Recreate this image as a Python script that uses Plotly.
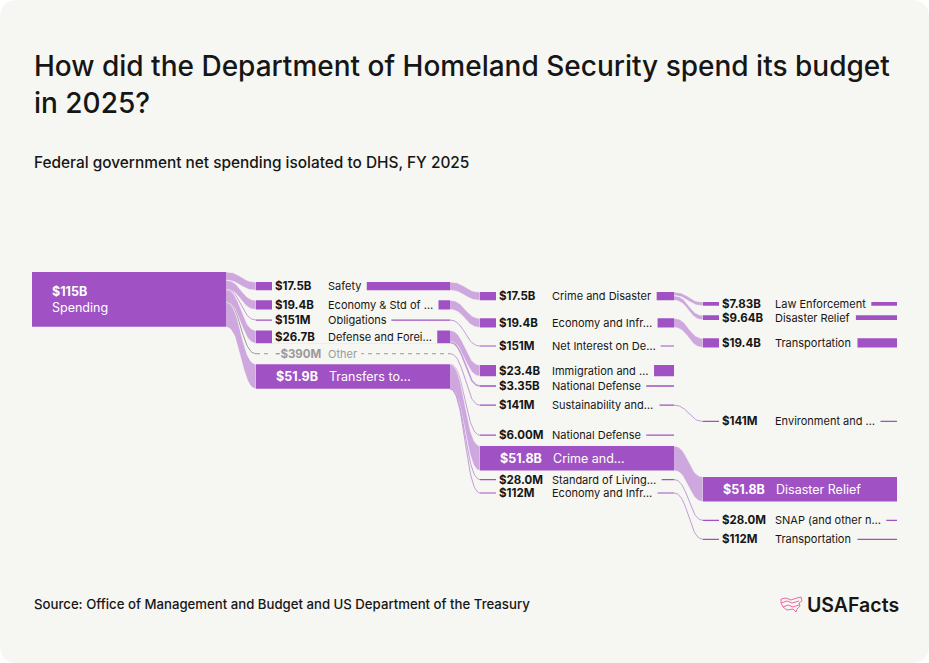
import numpy as np
import plotly.graph_objects as go

# ---- data ($ billions) ----
node_names = [
    "Spending",
    "Safety", "Economy & Std of …", "Obligations", "Defense and Forei…", "Other", "Transfers to…",
    "Crime and Disaster", "Economy and Infr…", "Net Interest on De…", "Immigration and …",
    "National Defense", "Sustainability and…", "National Defense", "Crime and…",
    "Standard of Living…", "Economy and Infr…",
    "Law Enforcement", "Disaster Relief", "Transportation", "Environment and …",
    "Disaster Relief", "SNAP (and other n…", "Transportation",
]
node_values = [
    115.3,
    17.5, 19.4, 0.151, 26.7, -0.390, 51.9,
    17.5, 19.4, 0.151, 23.4, 3.35, 0.141, 0.006, 51.8, 0.028, 0.112,
    7.83, 9.64, 19.4, 0.141, 51.8, 0.028, 0.112,
]
node_columns = [0] + [1] * 6 + [2] * 10 + [3] * 7

link_source = [0, 0, 0, 0, 0, 0, 1, 2, 3, 4, 4, 5, 6, 6, 6, 6, 7, 7, 8, 12, 14, 15, 16]
link_target = [1, 2, 3, 4, 5, 6, 7, 8, 9, 10, 11, 12, 13, 14, 15, 16, 17, 18, 19, 20, 21, 22, 23]
link_values = [17.5, 19.4, 0.151, 26.7, -0.390, 51.9, 17.5, 19.4, 0.151, 23.4, 3.35, 0.141,
               0.006, 51.8, 0.028, 0.112, 7.83, 9.64, 19.4, 0.141, 51.8, 0.028, 0.112]

title_lines = ["How did the Department of Homeland Security spend its budget", "in 2025?"]
subtitle = "Federal government net spending isolated to DHS, FY 2025"
source_note = "Source: Office of Management and Budget and US Department of the Treasury"

# ---- layout / style ----
W, H = 929, 663
BG = "#f6f6f2"
NODE = "#a052c4"
LINK = "#cea7df"
THIN = "#c49bd9"
INK = "#161616"
GREY = "#9b9b9b"
FONT = "Inter, sans-serif"
LABEL_SIZE = 11

SCALE = 0.475          # px per $1B
COL_X = [32, 256, 480, 703]
NODE_W = 194
GAP = 10
SPEND_TOP = 272
COL1_TOP = 282
# vertical slots used by the layout for columns 2 and 3 (row centres)
row_centers = {7: 296.2, 8: 322.9, 9: 346, 10: 370.6, 11: 386, 12: 405.2, 13: 435.2,
               14: 458.3, 15: 479.6, 16: 493.0,
               17: 303.9, 18: 317.6, 19: 342.9, 20: 421.3, 21: 489.3, 22: 520.3, 23: 539.3}

# rough Inter advance widths (em) for sizing the knock-out boxes behind labels
EM = {" ": .26, "a": .56, "b": .60, "c": .55, "d": .60, "e": .57, "f": .35, "g": .60, "h": .58,
      "i": .24, "j": .24, "k": .52, "l": .24, "m": .87, "n": .58, "o": .58, "p": .60, "q": .60,
      "r": .37, "s": .52, "t": .35, "u": .58, "v": .53, "w": .78, "x": .52, "y": .53, "z": .52,
      "&": .66, "(": .33, ")": .33, "…": .78, "I": .27, "L": .52, "E": .58, "F": .56, "T": .62}


def text_w(s, size):
    return sum(EM.get(c, .68) for c in s) * size * 1.04


def fmt(v):
    a = abs(v)
    if a >= 1:
        s, u = format(a, "#.3g").rstrip("."), "B"
    else:
        s, u = format(a * 1000, "#.3g").rstrip("."), "M"
    return ("-" if v < 0 else "") + "$" + s + u


n = len(node_names)
h = [max(v, 0) * SCALE for v in node_values]
dh = [max(x, 1) for x in h]
top = [0.0] * n
y = COL1_TOP
for i in range(n):
    if node_columns[i] == 0:
        top[i] = SPEND_TOP
    elif node_columns[i] == 1:
        top[i] = y
        y += dh[i] + GAP
    else:
        top[i] = row_centers[i] - dh[i] / 2
center = [top[i] + dh[i] / 2 for i in range(n)]

fig = go.Figure()

# ---- links ----
out_off = {i: 0.0 for i in range(n)}
in_off = {i: 0.0 for i in range(n)}
link_order = sorted(range(len(link_values)), key=lambda k: (link_source[k], center[link_target[k]]))
t = np.linspace(0, 1, 40)
ease = 3 * t ** 2 - 2 * t ** 3
for k in link_order:
    s, d, v = link_source[k], link_target[k], link_values[k]
    th = max(v, 0) * SCALE
    x0 = COL_X[node_columns[s]] + NODE_W
    x1 = COL_X[node_columns[d]]
    xm = (x0 + x1) / 2
    bx = (1 - t) ** 3 * x0 + 3 * (1 - t) ** 2 * t * xm + 3 * (1 - t) * t ** 2 * xm + t ** 3 * x1
    sa = top[s] + out_off[s]
    ta = top[d] + in_off[d]
    out_off[s] += th
    in_off[d] += th
    if th < 2:
        ys = center[s] if h[s] < 1 else sa + th / 2
        yt = center[d] if h[d] < 1 else ta + th / 2
        fig.add_trace(go.Scatter(
            x=bx, y=ys + (yt - ys) * ease, mode="lines",
            line=dict(color=GREY if v < 0 else THIN, width=max(th, 1)),
            hoverinfo="skip", showlegend=False))
    else:
        ytop = sa + (ta - sa) * ease
        ybot = (sa + th) + ((ta + th) - (sa + th)) * ease
        fig.add_trace(go.Scatter(
            x=np.concatenate([bx, bx[::-1]]), y=np.concatenate([ytop, ybot[::-1]]),
            mode="lines", fill="toself", fillcolor=LINK,
            line=dict(color=BG, width=0.6), hoverinfo="skip", showlegend=False))

# ---- nodes ----
for i in range(n):
    x0 = COL_X[node_columns[i]]
    if node_values[i] < 0:
        fig.add_trace(go.Scatter(
            x=[x0, x0 + NODE_W], y=[center[i], center[i]], mode="lines",
            line=dict(color=GREY, width=1, dash="4px,4px"), hoverinfo="skip", showlegend=False))
    elif h[i] < 1:
        fig.add_trace(go.Scatter(
            x=[x0, x0 + NODE_W], y=[center[i], center[i]], mode="lines",
            line=dict(color=NODE, width=1.2), hoverinfo="skip", showlegend=False))
    else:
        y0, y1 = top[i], top[i] + h[i]
        fig.add_trace(go.Scatter(
            x=[x0, x0 + NODE_W, x0 + NODE_W, x0, x0], y=[y0, y0, y1, y1, y0],
            mode="lines", fill="toself", fillcolor=NODE, line=dict(width=0),
            hoverinfo="skip", showlegend=False))

# ---- node labels ----
ann, knock = [], []
for i in range(n):
    x0 = COL_X[node_columns[i]]
    cy = center[i]
    val, name = fmt(node_values[i]), node_names[i]
    if dh[i] >= 40:
        ann.append(dict(x=x0 + 18, y=cy - 7.5, text="<b>" + val + "</b>", xanchor="left", yanchor="middle",
                        font=dict(size=12.5, color="white", family=FONT)))
        ann.append(dict(x=x0 + 18, y=cy + 8.5, text=name, xanchor="left", yanchor="middle",
                        font=dict(size=12.5, color="white", family=FONT)))
    elif dh[i] >= 15:
        ann.append(dict(x=x0 + 18, y=cy, text="<b>" + val + "</b>", xanchor="left", yanchor="middle",
                        font=dict(size=12.5, color="white", family=FONT)))
        ann.append(dict(x=x0 + 71, y=cy, text=name, xanchor="left", yanchor="middle",
                        font=dict(size=12.5, color="white", family=FONT)))
    else:
        col = GREY if node_values[i] < 0 else INK
        ann.append(dict(x=x0 + 17, y=cy, text="<b>" + val + "</b>", xanchor="left", yanchor="middle",
                        font=dict(size=11.5, color=col, family=FONT)))
        ann.append(dict(x=x0 + 70, y=cy, text=name, xanchor="left", yanchor="middle",
                        font=dict(size=LABEL_SIZE, color=col, family=FONT)))
        # background-coloured box so the bar/line stops around the label
        knock.append(dict(type="rect", xref="x", yref="y", layer="above", line=dict(width=0),
                          fillcolor=BG, x0=x0 + 16, x1=x0 + 70 + text_w(name, LABEL_SIZE) + 6,
                          y0=cy - 7, y1=cy + 7))

# ---- titles ----
ann.append(dict(x=32, y=66, text=title_lines[0], xanchor="left", yanchor="middle",
                font=dict(size=28, color=INK, family=FONT, weight=500)))
ann.append(dict(x=32, y=103, text=title_lines[1], xanchor="left", yanchor="middle",
                font=dict(size=28, color=INK, family=FONT, weight=500)))
ann.append(dict(x=32, y=162, text=subtitle, xanchor="left", yanchor="middle",
                font=dict(size=15.4, color=INK, family=FONT, weight=500)))
ann.append(dict(x=32, y=604, text=source_note, xanchor="left", yanchor="middle",
                font=dict(size=13.2, color=INK, family=FONT, weight=500)))
ann.append(dict(x=805, y=605, text="USAFacts", xanchor="left", yanchor="middle",
                font=dict(size=19.5, color=INK, family=FONT, weight=600)))
for a in ann:
    a.update(xref="x", yref="y", showarrow=False)

shapes = [
    dict(type="path", xref="x", yref="y", layer="below", line=dict(width=0), fillcolor=BG,
         path="M 18,0 L 911,0 Q 929,0 929,18 L 929,645 Q 929,663 911,663 L 18,663 Q 0,663 0,645 "
              "L 0,18 Q 0,0 18,0 Z"),
    # logo mark
    dict(type="path", xref="x", yref="y", line=dict(color="#ee6aa8", width=1),
         path="M 781,599 L 786,598 L 791,600 L 797,598 L 801,597 L 802,601 L 799,603 L 800,606 "
              "L 797,609 L 796,612 L 793,609 L 787,610 L 783,607 L 781,603 Z"),
    dict(type="path", xref="x", yref="y", line=dict(color="#ee6aa8", width=1),
         path="M 781,603 L 787,601 L 792,603 L 799,601"),
    dict(type="path", xref="x", yref="y", line=dict(color="#ee6aa8", width=1),
         path="M 783,607 L 788,605 L 793,607 L 799,605"),
] + knock

fig.update_layout(
    width=W, height=H,
    margin=dict(l=0, r=0, t=0, b=0),
    paper_bgcolor="white", plot_bgcolor="rgba(0,0,0,0)",
    xaxis=dict(range=[0, W], visible=False, fixedrange=True),
    yaxis=dict(range=[H, 0], visible=False, fixedrange=True),
    annotations=ann, shapes=shapes, showlegend=False,
)

# page body has a default 8px margin; drop it so the figure sits at the window's corner
fig.write_html("out.html", config={"displayModeBar": False},
               post_script="document.body.style.margin='0';")
